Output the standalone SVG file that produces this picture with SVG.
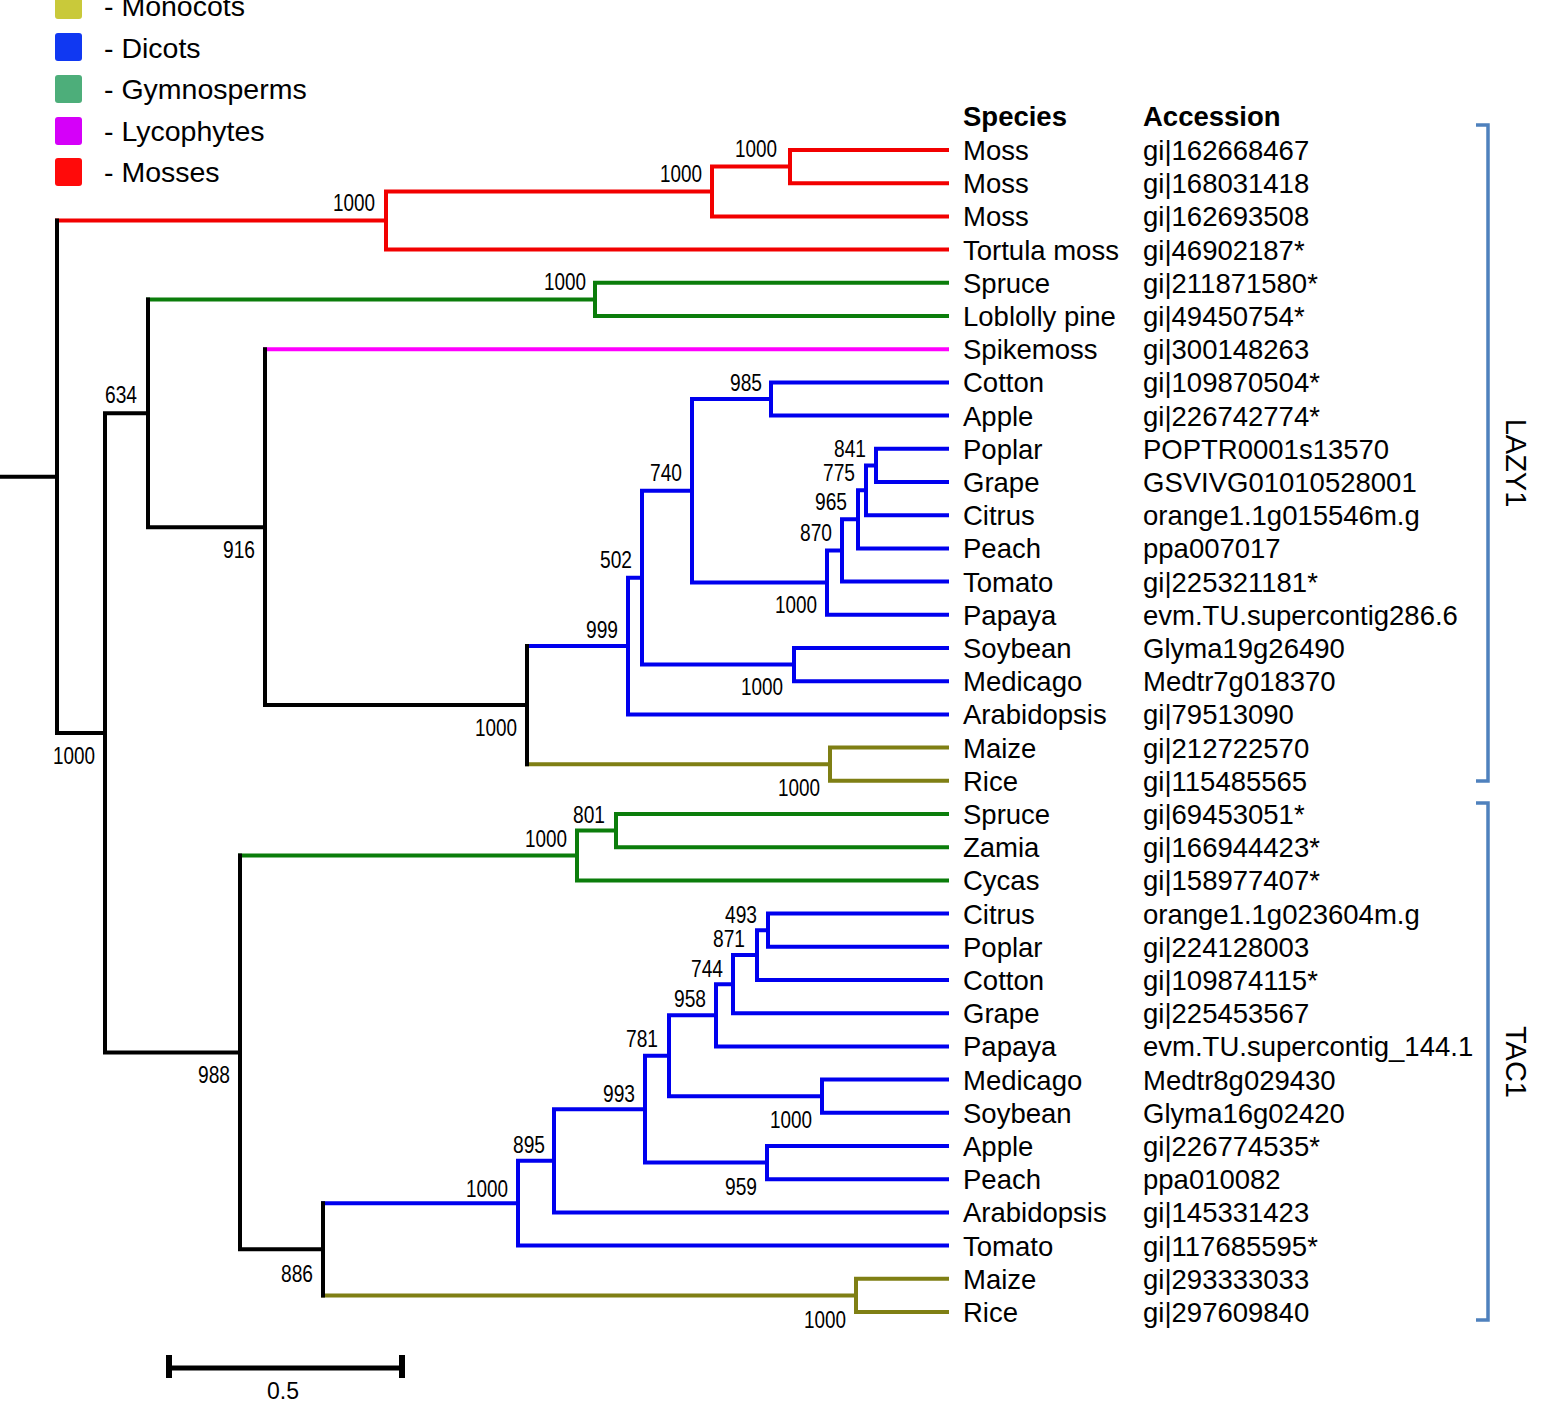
<svg xmlns="http://www.w3.org/2000/svg" width="1544" height="1411" viewBox="0 0 1544 1411">
<style>
  .br { fill: none; stroke-width: 4; stroke-linecap: square; }
  .k { stroke: #000000; }
  .r { stroke: #f20000; }
  .g { stroke: #0b7d0b; }
  .u { stroke: #0000ee; }
  .m { stroke: #ff00ff; }
  .o { stroke: #7f7f14; }
  .bs { font-family: "Liberation Sans", Arial, sans-serif; font-size: 23px; fill: #000; }
  .sp { font-family: "Liberation Sans", Arial, sans-serif; font-size: 27.5px; fill: #000; }
  .hd { font-family: "Liberation Sans", Arial, sans-serif; font-size: 27.5px; font-weight: bold; fill: #000; }
  .lg { font-family: "Liberation Sans", Arial, sans-serif; font-size: 28.5px; fill: #000; }
  .grp { font-family: "Liberation Sans", Arial, sans-serif; font-size: 29px; fill: #000; }
  .brk { fill: none; stroke: #4f81bd; stroke-width: 3.5; }
</style>

<!-- Legend -->
<g id="legend">
  <rect x="55" y="-9" width="27" height="28" rx="3" fill="#c9c93a"/>
  <text class="lg" x="104" y="16">- Monocots</text>
  <rect x="55" y="33" width="27" height="28" rx="3" fill="#1038f2"/>
  <text class="lg" x="104" y="57.5">- Dicots</text>
  <rect x="55" y="75" width="27" height="28" rx="3" fill="#4dae7a"/>
  <text class="lg" x="104" y="99">- Gymnosperms</text>
  <rect x="55" y="117" width="27" height="28" rx="3" fill="#d500f9"/>
  <text class="lg" x="104" y="140.5">- Lycophytes</text>
  <rect x="55" y="158" width="27" height="28" rx="3" fill="#ff0a0a"/>
  <text class="lg" x="104" y="182">- Mosses</text>
</g>

<!-- Connectors (branches) -->
<g id="connectors">
  <!-- Red: mosses -->
  <path class="br r" d="M57,220.5 H386 M386,191.5 V249.6 M386,191.5 H712 M712,166.6 V216.4 M712,166.6 H790 M790,150 V183.2 M790,150 H947 M790,183.2 H947 M712,216.4 H947 M386,249.6 H947"/>
  <!-- Green: gymnosperms -->
  <path class="br g" d="M148,299.4 H595 M595,282.8 V316 M595,282.8 H947 M595,316 H947"/>
  <path class="br g" d="M240,855.5 H577 M577,830.6 V880.4 M577,830.6 H616 M616,814 V847.2 M616,814 H947 M616,847.2 H947 M577,880.4 H947"/>
  <!-- Magenta: lycophyte -->
  <path class="br m" d="M265,349.2 H947"/>
  <!-- Blue: dicots LAZY1 -->
  <path class="br u" d="M527,646 H628 M628,577.7 V714.4 M628,714.4 H947 M628,577.7 H642 M642,490.8 V664.6 M642,490.8 H692 M692,399 V582.6 M692,399 H771 M771,382.4 V415.6 M771,382.4 H947 M771,415.6 H947 M692,582.6 H827 M827,550.5 V614.8 M827,614.8 H947 M827,550.5 H842 M842,519.35 V581.6 M842,581.6 H947 M842,519.35 H858 M858,490.3 V548.4 M858,548.4 H947 M858,490.3 H866 M866,465.4 V515.2 M866,515.2 H947 M866,465.4 H876 M876,448.8 V482 M876,448.8 H947 M876,482 H947 M642,664.6 H794 M794,648 V681.2 M794,648 H947 M794,681.2 H947"/>
  <!-- Olive: monocots LAZY1 -->
  <path class="br o" d="M527,764.2 H830 M830,747.6 V780.8 M830,747.6 H947 M830,780.8 H947"/>
  <!-- Blue: dicots TAC1 -->
  <path class="br u" d="M323,1203.2 H518 M518,1160.8 V1245.6 M518,1245.6 H947 M518,1160.8 H554 M554,1109.2 V1212.4 M554,1212.4 H947 M554,1109.2 H645 M645,1055.7 V1162.6 M645,1162.6 H767 M767,1146 V1179.2 M767,1146 H947 M767,1179.2 H947 M645,1055.7 H669 M669,1015.3 V1096.2 M669,1096.2 H822 M822,1079.6 V1112.8 M822,1079.6 H947 M822,1112.8 H947 M669,1015.3 H716 M716,984.15 V1046.4 M716,1046.4 H947 M716,984.15 H733 M733,955.1 V1013.2 M733,1013.2 H947 M733,955.1 H757 M757,930.2 V980 M757,980 H947 M757,930.2 H768 M768,913.6 V946.8 M768,913.6 H947 M768,946.8 H947"/>
  <!-- Olive: monocots TAC1 -->
  <path class="br o" d="M323,1295.4 H856 M856,1278.8 V1312 M856,1278.8 H947 M856,1312 H947"/>
  <!-- Black backbone -->
  <path class="br k" d="M0,476.7 H57 M57,220.5 V732.9 M57,732.9 H105 M105,413.3 V1052.4 M105,413.3 H148 M148,299.4 V527.2 M148,527.2 H265 M265,349.2 V705.1 M265,705.1 H527 M527,646 V764.2 M105,1052.4 H240 M240,855.5 V1249.3 M240,1249.3 H323 M323,1203.2 V1295.4"/>
</g>

<!-- Internal nodes: bootstrap values -->
<g id="node-moss-a"><text class="bs" x="735" y="157" textLength="42" lengthAdjust="spacingAndGlyphs">1000</text></g>
<g id="node-moss-b"><text class="bs" x="660" y="182" textLength="42" lengthAdjust="spacingAndGlyphs">1000</text></g>
<g id="node-moss-c"><text class="bs" x="333" y="211" textLength="42" lengthAdjust="spacingAndGlyphs">1000</text></g>
<g id="node-gym-lazy"><text class="bs" x="544" y="290" textLength="42" lengthAdjust="spacingAndGlyphs">1000</text></g>
<g id="node-634"><text class="bs" x="105" y="403" textLength="32" lengthAdjust="spacingAndGlyphs">634</text></g>
<g id="node-916"><text class="bs" x="223" y="558" textLength="32" lengthAdjust="spacingAndGlyphs">916</text></g>
<g id="node-root-1000"><text class="bs" x="53" y="764" textLength="42" lengthAdjust="spacingAndGlyphs">1000</text></g>
<g id="node-angio-lazy"><text class="bs" x="475" y="736" textLength="42" lengthAdjust="spacingAndGlyphs">1000</text></g>
<g id="node-999"><text class="bs" x="586" y="638" textLength="32" lengthAdjust="spacingAndGlyphs">999</text></g>
<g id="node-502"><text class="bs" x="600" y="568" textLength="32" lengthAdjust="spacingAndGlyphs">502</text></g>
<g id="node-740"><text class="bs" x="650" y="481" textLength="32" lengthAdjust="spacingAndGlyphs">740</text></g>
<g id="node-985"><text class="bs" x="730" y="391" textLength="32" lengthAdjust="spacingAndGlyphs">985</text></g>
<g id="node-841"><text class="bs" x="834" y="457" textLength="32" lengthAdjust="spacingAndGlyphs">841</text></g>
<g id="node-775"><text class="bs" x="823" y="481" textLength="32" lengthAdjust="spacingAndGlyphs">775</text></g>
<g id="node-965"><text class="bs" x="815" y="510" textLength="32" lengthAdjust="spacingAndGlyphs">965</text></g>
<g id="node-870"><text class="bs" x="800" y="541" textLength="32" lengthAdjust="spacingAndGlyphs">870</text></g>
<g id="node-papaya-lazy"><text class="bs" x="775" y="613" textLength="42" lengthAdjust="spacingAndGlyphs">1000</text></g>
<g id="node-legume-lazy"><text class="bs" x="741" y="695" textLength="42" lengthAdjust="spacingAndGlyphs">1000</text></g>
<g id="node-mono-lazy"><text class="bs" x="778" y="796" textLength="42" lengthAdjust="spacingAndGlyphs">1000</text></g>
<g id="node-801"><text class="bs" x="573" y="823" textLength="32" lengthAdjust="spacingAndGlyphs">801</text></g>
<g id="node-gym-tac"><text class="bs" x="525" y="847" textLength="42" lengthAdjust="spacingAndGlyphs">1000</text></g>
<g id="node-988"><text class="bs" x="198" y="1083" textLength="32" lengthAdjust="spacingAndGlyphs">988</text></g>
<g id="node-493"><text class="bs" x="725" y="923" textLength="32" lengthAdjust="spacingAndGlyphs">493</text></g>
<g id="node-871"><text class="bs" x="713" y="947" textLength="32" lengthAdjust="spacingAndGlyphs">871</text></g>
<g id="node-744"><text class="bs" x="691" y="977" textLength="32" lengthAdjust="spacingAndGlyphs">744</text></g>
<g id="node-958"><text class="bs" x="674" y="1007" textLength="32" lengthAdjust="spacingAndGlyphs">958</text></g>
<g id="node-781"><text class="bs" x="626" y="1047" textLength="32" lengthAdjust="spacingAndGlyphs">781</text></g>
<g id="node-993"><text class="bs" x="603" y="1102" textLength="32" lengthAdjust="spacingAndGlyphs">993</text></g>
<g id="node-legume-tac"><text class="bs" x="770" y="1128" textLength="42" lengthAdjust="spacingAndGlyphs">1000</text></g>
<g id="node-959"><text class="bs" x="725" y="1195" textLength="32" lengthAdjust="spacingAndGlyphs">959</text></g>
<g id="node-895"><text class="bs" x="513" y="1153" textLength="32" lengthAdjust="spacingAndGlyphs">895</text></g>
<g id="node-dicot-tac"><text class="bs" x="466" y="1197" textLength="42" lengthAdjust="spacingAndGlyphs">1000</text></g>
<g id="node-886"><text class="bs" x="281" y="1282" textLength="32" lengthAdjust="spacingAndGlyphs">886</text></g>
<g id="node-mono-tac"><text class="bs" x="804" y="1328" textLength="42" lengthAdjust="spacingAndGlyphs">1000</text></g>

<!-- Column headers -->
<g id="headers">
  <text class="hd" x="963" y="126">Species</text>
  <text class="hd" x="1143" y="126">Accession</text>
</g>

<!-- Leaves -->
<g id="leaf-01"><text class="sp" x="963" y="160">Moss</text><text class="sp" x="1143" y="160">gi|162668467</text></g>
<g id="leaf-02"><text class="sp" x="963" y="193.2">Moss</text><text class="sp" x="1143" y="193.2">gi|168031418</text></g>
<g id="leaf-03"><text class="sp" x="963" y="226.4">Moss</text><text class="sp" x="1143" y="226.4">gi|162693508</text></g>
<g id="leaf-04"><text class="sp" x="963" y="259.6">Tortula moss</text><text class="sp" x="1143" y="259.6">gi|46902187*</text></g>
<g id="leaf-05"><text class="sp" x="963" y="292.8">Spruce</text><text class="sp" x="1143" y="292.8">gi|211871580*</text></g>
<g id="leaf-06"><text class="sp" x="963" y="326">Loblolly pine</text><text class="sp" x="1143" y="326">gi|49450754*</text></g>
<g id="leaf-07"><text class="sp" x="963" y="359.2">Spikemoss</text><text class="sp" x="1143" y="359.2">gi|300148263</text></g>
<g id="leaf-08"><text class="sp" x="963" y="392.4">Cotton</text><text class="sp" x="1143" y="392.4">gi|109870504*</text></g>
<g id="leaf-09"><text class="sp" x="963" y="425.6">Apple</text><text class="sp" x="1143" y="425.6">gi|226742774*</text></g>
<g id="leaf-10"><text class="sp" x="963" y="458.8">Poplar</text><text class="sp" x="1143" y="458.8">POPTR0001s13570</text></g>
<g id="leaf-11"><text class="sp" x="963" y="492">Grape</text><text class="sp" x="1143" y="492">GSVIVG01010528001</text></g>
<g id="leaf-12"><text class="sp" x="963" y="525.2">Citrus</text><text class="sp" x="1143" y="525.2">orange1.1g015546m.g</text></g>
<g id="leaf-13"><text class="sp" x="963" y="558.4">Peach</text><text class="sp" x="1143" y="558.4">ppa007017</text></g>
<g id="leaf-14"><text class="sp" x="963" y="591.6">Tomato</text><text class="sp" x="1143" y="591.6">gi|225321181*</text></g>
<g id="leaf-15"><text class="sp" x="963" y="624.8">Papaya</text><text class="sp" x="1143" y="624.8">evm.TU.supercontig286.6</text></g>
<g id="leaf-16"><text class="sp" x="963" y="658">Soybean</text><text class="sp" x="1143" y="658">Glyma19g26490</text></g>
<g id="leaf-17"><text class="sp" x="963" y="691.2">Medicago</text><text class="sp" x="1143" y="691.2">Medtr7g018370</text></g>
<g id="leaf-18"><text class="sp" x="963" y="724.4">Arabidopsis</text><text class="sp" x="1143" y="724.4">gi|79513090</text></g>
<g id="leaf-19"><text class="sp" x="963" y="757.6">Maize</text><text class="sp" x="1143" y="757.6">gi|212722570</text></g>
<g id="leaf-20"><text class="sp" x="963" y="790.8">Rice</text><text class="sp" x="1143" y="790.8">gi|115485565</text></g>
<g id="leaf-21"><text class="sp" x="963" y="824">Spruce</text><text class="sp" x="1143" y="824">gi|69453051*</text></g>
<g id="leaf-22"><text class="sp" x="963" y="857.2">Zamia</text><text class="sp" x="1143" y="857.2">gi|166944423*</text></g>
<g id="leaf-23"><text class="sp" x="963" y="890.4">Cycas</text><text class="sp" x="1143" y="890.4">gi|158977407*</text></g>
<g id="leaf-24"><text class="sp" x="963" y="923.6">Citrus</text><text class="sp" x="1143" y="923.6">orange1.1g023604m.g</text></g>
<g id="leaf-25"><text class="sp" x="963" y="956.8">Poplar</text><text class="sp" x="1143" y="956.8">gi|224128003</text></g>
<g id="leaf-26"><text class="sp" x="963" y="990">Cotton</text><text class="sp" x="1143" y="990">gi|109874115*</text></g>
<g id="leaf-27"><text class="sp" x="963" y="1023.2">Grape</text><text class="sp" x="1143" y="1023.2">gi|225453567</text></g>
<g id="leaf-28"><text class="sp" x="963" y="1056.4">Papaya</text><text class="sp" x="1143" y="1056.4">evm.TU.supercontig_144.1</text></g>
<g id="leaf-29"><text class="sp" x="963" y="1089.6">Medicago</text><text class="sp" x="1143" y="1089.6">Medtr8g029430</text></g>
<g id="leaf-30"><text class="sp" x="963" y="1122.8">Soybean</text><text class="sp" x="1143" y="1122.8">Glyma16g02420</text></g>
<g id="leaf-31"><text class="sp" x="963" y="1156">Apple</text><text class="sp" x="1143" y="1156">gi|226774535*</text></g>
<g id="leaf-32"><text class="sp" x="963" y="1189.2">Peach</text><text class="sp" x="1143" y="1189.2">ppa010082</text></g>
<g id="leaf-33"><text class="sp" x="963" y="1222.4">Arabidopsis</text><text class="sp" x="1143" y="1222.4">gi|145331423</text></g>
<g id="leaf-34"><text class="sp" x="963" y="1255.6">Tomato</text><text class="sp" x="1143" y="1255.6">gi|117685595*</text></g>
<g id="leaf-35"><text class="sp" x="963" y="1288.8">Maize</text><text class="sp" x="1143" y="1288.8">gi|293333033</text></g>
<g id="leaf-36"><text class="sp" x="963" y="1322">Rice</text><text class="sp" x="1143" y="1322">gi|297609840</text></g>

<!-- Group brackets -->
<g id="group-lazy1">
  <path class="brk" d="M1476,125 H1488 V781 H1476"/>
  <text class="grp" transform="translate(1506,463) rotate(90)" text-anchor="middle">LAZY1</text>
</g>
<g id="group-tac1">
  <path class="brk" d="M1476,803 H1488 V1320 H1476"/>
  <text class="grp" transform="translate(1506,1062) rotate(90)" text-anchor="middle">TAC1</text>
</g>

<!-- Scale bar -->
<g id="scale-bar">
  <path d="M166,1368 H405" stroke="#000" stroke-width="5" fill="none"/>
  <rect x="166" y="1355" width="6" height="23" fill="#000"/>
  <rect x="399" y="1355" width="6" height="23" fill="#000"/>
  <text class="bs" x="267" y="1399" textLength="32" lengthAdjust="spacingAndGlyphs">0.5</text>
</g>
</svg>
